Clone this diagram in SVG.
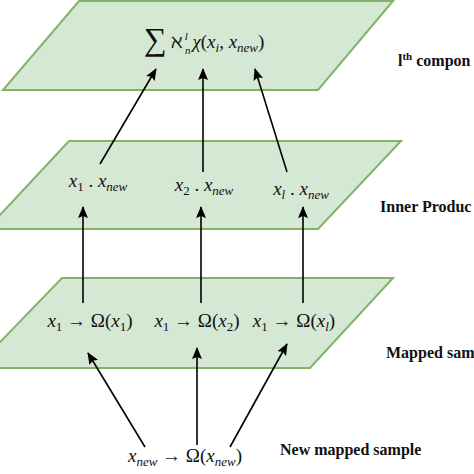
<svg xmlns="http://www.w3.org/2000/svg" width="474" height="474" viewBox="0 0 474 474">
<defs>
<style>
.plane{fill:#d5e8d4;stroke:#82b366;stroke-width:2;stroke-linejoin:miter}
.m{font-family:"Liberation Serif","DejaVu Serif",serif;font-size:19px;font-style:italic;fill:#111}
.u{font-style:normal}
.s{font-size:13px}
.t{font-size:11px}
.lbl{font-family:"Liberation Serif","Times New Roman",serif;font-size:16px;font-weight:bold;fill:#111}
.conn line{stroke:#000;stroke-width:1.6;marker-end:url(#ah)}
</style>
<marker id="ah" markerUnits="userSpaceOnUse" markerWidth="12" markerHeight="10" refX="11" refY="5" orient="auto">
<path d="M0,0 L12,5 L0,10 L2,5 z" fill="#000"/>
</marker>
</defs>
<rect width="474" height="474" fill="#fff"/>

<g id="plane-top">
<polygon class="plane" points="79,1 393,1 318,90 3,90"/>
<text class="m" x="144" y="50"><tspan class="u" font-size="32">∑</tspan><tspan class="u" dx="4" dy="-2">ℵ</tspan><tspan class="t" dx="2" dy="-8">l</tspan><tspan class="t" dx="-3" dy="14">n</tspan><tspan dx="2" dy="-6">χ</tspan><tspan class="u">(</tspan>x<tspan class="s" dy="4">i</tspan><tspan class="u" dy="-4">, </tspan>x<tspan class="s" dy="4">new</tspan><tspan class="u" dy="-4">)</tspan></text>
</g>
<g id="label-top">
<text class="lbl" x="398" y="66">l<tspan font-size="11" dy="-6">th</tspan><tspan dy="6"> compon</tspan></text>
</g>

<g id="plane-middle">
<polygon class="plane" points="69,141 401,141 318,229 -13,229"/>
<text class="m" x="98" y="187" text-anchor="middle">x<tspan class="s u" dy="4">1</tspan><tspan class="u" dy="-4"> . </tspan>x<tspan class="s" dy="4">new</tspan></text>
<text class="m" x="204" y="191" text-anchor="middle">x<tspan class="s u" dy="4">2</tspan><tspan class="u" dy="-4"> . </tspan>x<tspan class="s" dy="4">new</tspan></text>
<text class="m" x="301" y="195" text-anchor="middle">x<tspan class="s" dy="4">l</tspan><tspan class="u" dy="-4"> . </tspan>x<tspan class="s" dy="4">new</tspan></text>
</g>
<g id="label-middle">
<text class="lbl" x="380" y="212">Inner Produc</text>
</g>

<g id="plane-bottom">
<polygon class="plane" points="62,278 393,278 310,368 -25,368"/>
<text class="m" x="90" y="327" text-anchor="middle">x<tspan class="s u" dy="4">1</tspan><tspan class="u" dy="-4"> → Ω(</tspan>x<tspan class="s u" dy="4">1</tspan><tspan class="u" dy="-4">)</tspan></text>
<text class="m" x="197" y="327" text-anchor="middle">x<tspan class="s u" dy="4">1</tspan><tspan class="u" dy="-4"> → Ω(</tspan>x<tspan class="s u" dy="4">2</tspan><tspan class="u" dy="-4">)</tspan></text>
<text class="m" x="294" y="327" text-anchor="middle">x<tspan class="s u" dy="4">1</tspan><tspan class="u" dy="-4"> → Ω(</tspan>x<tspan class="s" dy="4">l</tspan><tspan class="u" dy="-4">)</tspan></text>
</g>
<g id="label-bottom">
<text class="lbl" x="386" y="358">Mapped sam</text>
</g>

<g id="node-new">
<text class="m" x="185" y="462" text-anchor="middle">x<tspan class="s" dy="4">new</tspan><tspan class="u" dy="-4"> → Ω(</tspan>x<tspan class="s" dy="4">new</tspan><tspan class="u" dy="-4">)</tspan></text>
</g>
<g id="label-new">
<text class="lbl" x="280" y="455">New mapped sample</text>
</g>

<g id="connectors" class="conn">
<line x1="100" y1="164" x2="156" y2="69"/>
<line x1="203" y1="172" x2="203" y2="69"/>
<line x1="287" y1="172" x2="255" y2="69"/>
<line x1="83" y1="303" x2="83" y2="207"/>
<line x1="201" y1="303" x2="201" y2="207"/>
<line x1="303" y1="303" x2="303" y2="207"/>
<line x1="145" y1="447" x2="88" y2="353"/>
<line x1="197" y1="445" x2="197" y2="348"/>
<line x1="230" y1="447" x2="287" y2="344"/>
</g>
</svg>
